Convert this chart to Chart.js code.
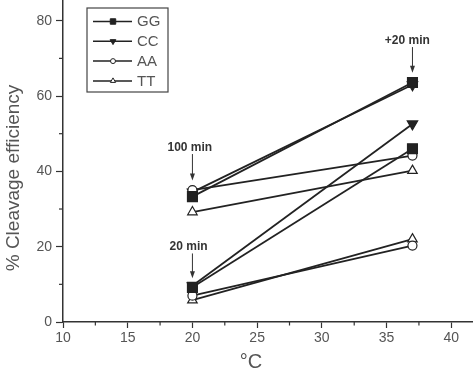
<!DOCTYPE html>
<html>
<head>
<meta charset="utf-8">
<script src="https://cdn.jsdelivr.net/npm/chart.js@4.4.1/dist/chart.umd.min.js"></script>
<style>
  html, body { margin: 0; padding: 0; background: #fff; }
  #wrap { width: 474px; height: 374px; }
</style>
</head>
<body>
<div id="wrap"><canvas id="chart" width="474" height="374"></canvas></div>
<script>
// temperatures (°C)
const temps = [20, 37];
// % cleavage, 20 min incubation
const gg20 = [9.2, 46.0];
const cc20 = [9.6, 52.6];
const aa20 = [7.0, 20.3];
const tt20 = [5.8, 22.0];
// % cleavage, 100 min incubation
const gg100 = [33.3, 63.6];
const cc100 = [34.5, 63.0];
const aa100 = [35.0, 44.2];
const tt100 = [29.2, 40.2];

const seriesNames = ["GG", "CC", "AA", "TT"];
const xTicks = [10, 15, 20, 25, 30, 35, 40];
const xMinor = [12.5, 17.5, 22.5, 27.5, 32.5, 37.5];
const yTicks = [0, 20, 40, 60, 80];
const yMinor = [10, 30, 50, 70];

const ink = "#222";
const gray = "#555";
const FONT = "'Liberation Sans', Arial, sans-serif";

// style per series
const styles = {
  GG: { pointStyle: "rect", radius: 7, rotation: 0, fill: ink },
  CC: { pointStyle: "triangle", radius: 6, rotation: 180, fill: ink },
  AA: { pointStyle: "circle", radius: 4.5, rotation: 0, fill: "#fff" },
  TT: { pointStyle: "triangle", radius: 5.5, rotation: 0, fill: "#fff" },
};

function makeSet(name, values) {
  const s = styles[name];
  return {
    label: name,
    data: temps.map((t, i) => ({ x: t, y: values[i] })),
    showLine: true,
    borderColor: ink,
    borderWidth: 1.8,
    pointStyle: s.pointStyle,
    pointRadius: s.radius,
    pointRotation: s.rotation,
    pointBackgroundColor: s.fill,
    pointBorderColor: ink,
    pointBorderWidth: 1.2,
  };
}

// dataset 0 is drawn on top
const datasets = [
  makeSet("GG", gg100),
  makeSet("GG", gg20),
  makeSet("AA", aa100),
  makeSet("CC", cc100),
  makeSet("CC", cc20),
  makeSet("AA", aa20),
  makeSet("TT", tt100),
  makeSet("TT", tt20),
];

// arrows + labels (data coordinates)
const notes = [
  { text: "100 min", x: 20, xText: 19.8, yText: 46.2, yFrom: 44.6, yTo: 37.6 },
  { text: "20 min", x: 20, xText: 19.7, yText: 19.9, yFrom: 18.2, yTo: 11.6 },
  { text: "+20 min", x: 37, xText: 36.6, yText: 74.6, yFrom: 73.0, yTo: 66.2 },
];

const extras = {
  id: "extras",
  afterDraw(chart) {
    const ctx = chart.ctx;
    const xs = chart.scales.x;
    const ys = chart.scales.y;
    ctx.save();

    // minor ticks
    ctx.strokeStyle = "#333";
    ctx.lineWidth = 1.2;
    xMinor.forEach((v) => {
      const px = xs.getPixelForValue(v);
      ctx.beginPath();
      ctx.moveTo(px, ys.bottom);
      ctx.lineTo(px, ys.bottom + 3.5);
      ctx.stroke();
    });
    yMinor.forEach((v) => {
      const py = ys.getPixelForValue(v);
      ctx.beginPath();
      ctx.moveTo(xs.left, py);
      ctx.lineTo(xs.left - 4, py);
      ctx.stroke();
    });

    // axis titles
    ctx.fillStyle = gray;
    ctx.font = "20px " + FONT;
    ctx.textAlign = "center";
    ctx.textBaseline = "middle";
    ctx.fillText("°C", 251, 362);
    ctx.save();
    ctx.translate(14, 178);
    ctx.rotate(-Math.PI / 2);
    ctx.font = "19px " + FONT;
    ctx.fillText("% Cleavage efficiency", 0, 0);
    ctx.restore();

    // annotations
    notes.forEach((n) => {
      const px = xs.getPixelForValue(n.x);
      const tx = xs.getPixelForValue(n.xText);
      ctx.fillStyle = "#333";
      ctx.font = "bold 12px " + FONT;
      ctx.textAlign = "center";
      ctx.textBaseline = "middle";
      ctx.fillText(n.text, tx, ys.getPixelForValue(n.yText));
      const y1 = ys.getPixelForValue(n.yFrom);
      const y2 = ys.getPixelForValue(n.yTo);
      ctx.strokeStyle = "#333";
      ctx.lineWidth = 1;
      ctx.beginPath();
      ctx.moveTo(px, y1);
      ctx.lineTo(px, y2 - 5);
      ctx.stroke();
      ctx.beginPath();
      ctx.moveTo(px, y2);
      ctx.lineTo(px - 2.5, y2 - 7);
      ctx.lineTo(px + 2.5, y2 - 7);
      ctx.closePath();
      ctx.fill();
    });

    // legend box
    const bx = 87, by = 8, bw = 81, bh = 84;
    ctx.strokeStyle = "#444";
    ctx.lineWidth = 1.2;
    ctx.strokeRect(bx, by, bw, bh);
    seriesNames.forEach((name, i) => {
      const s = styles[name];
      const ly = 21.5 + i * 19.8;
      ctx.strokeStyle = ink;
      ctx.lineWidth = 1.5;
      ctx.beginPath();
      ctx.moveTo(93, ly);
      ctx.lineTo(132, ly);
      ctx.stroke();
      ctx.fillStyle = s.fill;
      ctx.lineWidth = 1;
      Chart.helpers.drawPoint(ctx, {
        pointStyle: s.pointStyle,
        radius: s.radius * 0.55,
        rotation: s.rotation,
        borderWidth: 1,
      }, 113, ly);
      ctx.fillStyle = gray;
      ctx.font = "15px " + FONT;
      ctx.textAlign = "left";
      ctx.textBaseline = "middle";
      ctx.fillText(name, 137, ly + 0.5);
    });

    ctx.restore();
  },
};

new Chart(document.getElementById("chart"), {
  type: "scatter",
  data: { datasets },
  options: {
    responsive: false,
    animation: false,
    layout: { autoPadding: false, padding: { top: 0, right: 2, left: 0, bottom: 0 } },
    plugins: { legend: { display: false }, tooltip: { enabled: false } },
    scales: {
      x: {
        type: "linear",
        min: 10,
        max: 41.6,
        afterFit: (s) => { s.height = 52; s.paddingLeft = 0; s.paddingRight = 0; },
        afterBuildTicks: (s) => { s.ticks = xTicks.map((v) => ({ value: v })); },
        ticks: { color: gray, font: { size: 14, family: FONT }, padding: 2, maxRotation: 0 },
        grid: { drawOnChartArea: false, tickLength: 6, tickColor: "#333", tickWidth: 1.2 },
        border: { color: "#333", width: 1.5 },
      },
      y: {
        type: "linear",
        min: 0,
        max: 85.5,
        afterFit: (s) => { s.width = 63; s.paddingTop = 0; s.paddingBottom = 0; },
        afterBuildTicks: (s) => { s.ticks = yTicks.map((v) => ({ value: v })); },
        ticks: { color: gray, font: { size: 14, family: FONT }, padding: 4 },
        grid: { drawOnChartArea: false, tickLength: 7, tickColor: "#333", tickWidth: 1.2 },
        border: { color: "#333", width: 1.5 },
      },
    },
  },
  plugins: [extras],
});
</script>
</body>
</html>
